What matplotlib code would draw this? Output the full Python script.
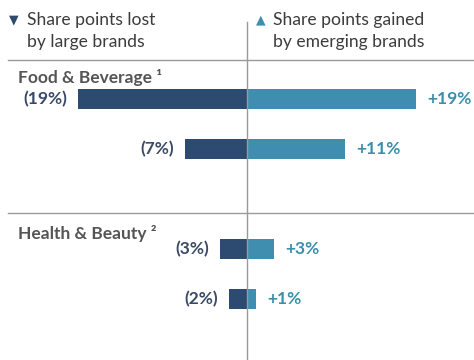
import matplotlib
matplotlib.use("Agg")
import matplotlib.pyplot as plt

plt.rcParams['font.family'] = ['Lato', 'DejaVu Sans']

categories = ["Food & Beverage ¹", "Health & Beauty ²"]
lost = [19, 7, 3, 2]          # share points lost by large brands
gained = [19, 11, 3, 1]       # share points gained by emerging brands
lost_labels = ["(19%)", "(7%)", "(3%)", "(2%)"]
gained_labels = ["+19%", "+11%", "+3%", "+1%"]
row_group = [0, 0, 1, 1]

dark = "#2D4B70"
light = "#3F8EAF"
dark_txt = "#3A4A66"
light_txt = "#3A8FAA"
grey_txt = "#555555"
line_col = "#9A9A9A"

W, H = 474, 360
fig = plt.figure(figsize=(W / 100, H / 100), dpi=100)
ax = fig.add_axes([0, 0, 1, 1])
ppu = 8.9  # pixels per percentage point
cx = 247
ax.set_xlim(-cx / ppu, (W - cx) / ppu)
row_px = 50.0
top_px = 99.0
ax.set_ylim((H - top_px) / row_px, -top_px / row_px)
ax.axis("off")

ypos = [i + g for i, g in enumerate(row_group)]
bh = 20 / row_px

ax.barh(ypos, [-v for v in lost], height=bh, color=dark, zorder=2)
ax.barh(ypos, gained, height=bh, color=light, zorder=2)

for y, v, lab in zip(ypos, lost, lost_labels):
    ax.annotate(lab, xy=(-v, y), xytext=(-8, 0), textcoords="offset points",
                ha="right", va="center", fontsize=12.5, fontweight="bold", color=dark_txt)
for y, v, lab in zip(ypos, gained, gained_labels):
    ax.annotate(lab, xy=(v, y), xytext=(8, 0), textcoords="offset points",
                ha="left", va="center", fontsize=12.5, fontweight="bold", color=light_txt)

ax.axvline(0, ymin=0, ymax=1 - 22 / H, color=line_col, lw=1.0, zorder=3)

xl, xr = ax.get_xlim()
sep_px = [60, 213]
cat_px = [77, 233]
for s, c, name in zip(sep_px, cat_px, categories):
    ys = (s - top_px) / row_px
    ax.plot([xl + 8 / ppu, xr], [ys, ys], color=line_col, lw=1.0, zorder=1)
    ax.text(xl + 18 / ppu, (c - top_px) / row_px, name, ha="left", va="center",
            fontsize=12.5, fontweight="bold", color=grey_txt)

hy1 = (20 - top_px) / row_px
hy2 = (42 - top_px) / row_px
hdr = "#3C3C3C"
ax.text(xl + 9 / ppu, hy1, "▼", ha="left", va="center", fontsize=9, color=dark,
        family="DejaVu Sans")
ax.text(xl + 27 / ppu, hy1, "Share points lost", ha="left", va="center", fontsize=12.6, color=hdr)
ax.text(xl + 27 / ppu, hy2, "by large brands", ha="left", va="center", fontsize=12.6, color=hdr)
ax.text(xl + 256 / ppu, hy1, "▲", ha="left", va="center", fontsize=9, color=light,
        family="DejaVu Sans")
ax.text(xl + 273 / ppu, hy1, "Share points gained", ha="left", va="center", fontsize=12.6, color=hdr)
ax.text(xl + 273 / ppu, hy2, "by emerging brands", ha="left", va="center", fontsize=12.6, color=hdr)

fig.savefig("out.png", dpi=100)
